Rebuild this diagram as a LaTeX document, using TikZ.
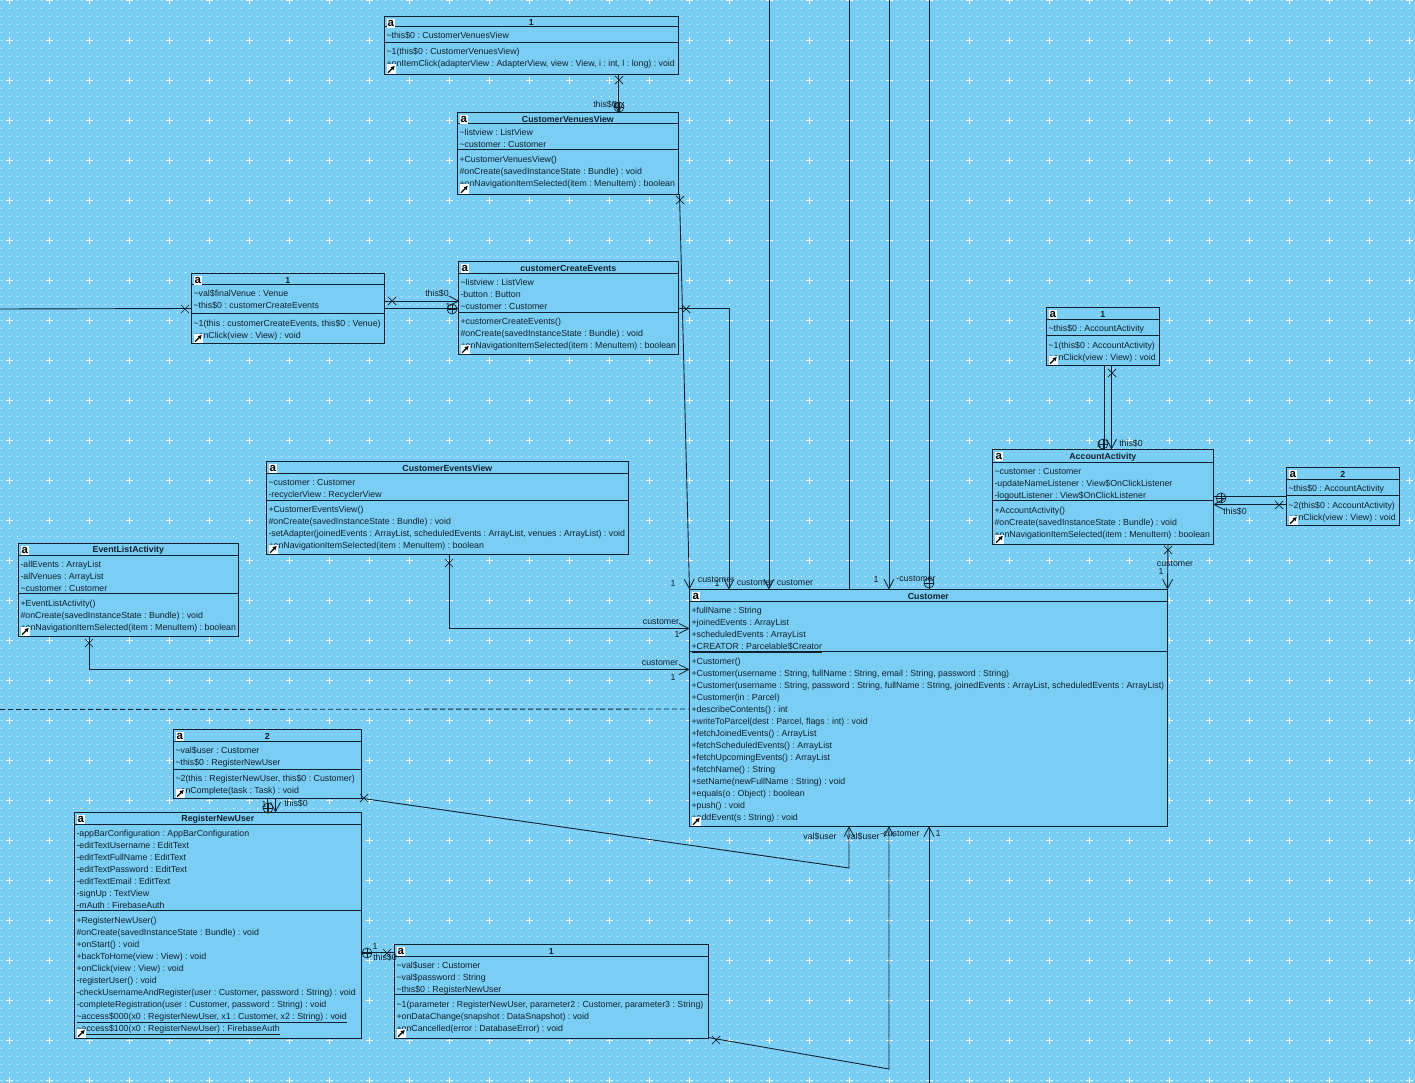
\documentclass[tikz,border=0pt]{standalone}
\usepackage{fontspec}
\setmainfont{Liberation Sans}
\usetikzlibrary{calc,arrows.meta,shapes.misc}
\frenchspacing
\definecolor{umlblue}{HTML}{7ACEF4}
\definecolor{umlline}{HTML}{10202C}
\newcommand{\pk}{\textasciitilde}
\tikzset{
	classbox/.style={draw=umlline,fill=umlblue,line width=0.9pt,anchor=north west,inner sep=0pt,outer sep=0pt},
	classtitle/.style={font=\fontsize{8.8}{12}\selectfont\bfseries,text=umlline,inner sep=0pt},
	members/.style={font=\fontsize{8.8}{12}\selectfont,text=umlline,align=left,anchor=north west,inner sep=0pt},
	iconbox/.style={fill=white,anchor=north west,minimum width=8pt,minimum height=9pt,inner sep=0pt,font=\fontsize{11.5}{11.5}\selectfont\bfseries},
	linkbox/.style={fill=white,anchor=south west,minimum size=9.5pt,inner sep=0pt},
	assoc/.style={draw=umlline,line width=0.9pt},
	arr/.style={assoc,-{Straight Barb[length=9.5pt,width=10pt,line width=0.8pt]}},
	xmark/.style={cross out,draw=umlline,line width=0.7pt,minimum size=7.5pt,inner sep=0pt},
	omark/.style={circle,draw=umlline,line width=0.7pt,minimum size=10pt,inner sep=0pt,
		path picture={\draw[umlline,line width=0.7pt] (path picture bounding box.north)--(path picture bounding box.south)
			(path picture bounding box.west)--(path picture bounding box.east);}},
	lbl/.style={font=\fontsize{8.8}{11}\selectfont,text=umlline,inner sep=0pt},
}
% name, corner, width, height, title, title line, member line, attributes, operations
\newcommand{\umlclass}[9]{
	\node[classbox,minimum width=#3pt+0.7pt,minimum height=#4pt+0.7pt] (#1) at ([shift={(-0.5,-0.5)}]#2) {};
	\draw[assoc] ([yshift=-#6pt]#1.north west)--([yshift=-#6pt]#1.north east);
	\draw[assoc] ([yshift=-#7pt]#1.north west)--([yshift=-#7pt]#1.north east);
	\node[classtitle] (#1-title) at ([yshift=-#6pt/2-1.2pt]#1.north) {#5};
	\node[members] (#1-attrs) at ([xshift=1.8pt,yshift=-#6pt-3.2pt]#1.north west) {\rule{0pt}{9pt}#8};
	\node[members] (#1-ops) at ([xshift=1.8pt,yshift=-#7pt-3.5pt]#1.north west) {\rule{0pt}{9pt}#9};
	\node[iconbox] (#1-icon) at ([xshift=2pt,yshift=-2pt]#1.north west) {a};
	\node[linkbox] (#1-link) at ([xshift=2pt]#1.south west) {};
	\draw[line width=1.3pt,-{Latex[length=4pt,width=4.5pt]}] ([shift={(1.5,-1.5)}]#1-link.south west)--([shift={(-1.5,1.5)}]#1-link.north east);
}
\begin{document}
\begin{tikzpicture}[x=1pt,y=-1pt]
	\useasboundingbox (0,0) rectangle (1415,1083);
	\fill[umlblue] (0,0) rectangle (1415,1083);
	\foreach \y in {0,8,...,1080}
		\draw[white,line width=1pt,dash pattern=on 1pt off 7pt] (1,\y+0.5)--(1415,\y+0.5);
	\foreach \x in {9,49,...,1409}
		\foreach \y in {0,40,...,1080}
			\draw[white,line width=0.9pt] (\x+0.5-3.5,\y+0.5)--(\x+0.5+3.5,\y+0.5) (\x+0.5,\y+0.5-3.5)--(\x+0.5,\y+0.5+3.5);

	\umlclass{venuesItem}{385,17}{293}{57}{1}{10}{25.5}
		{\pk{}this\$0 : CustomerVenuesView}
		{\pk{}1(this\$0 : CustomerVenuesView)\\+onItemClick(adapterView : AdapterView, view : View, i : int, l : long) : void}
	\umlclass{venuesView}{458,113}{220}{81}{CustomerVenuesView}{10.5}{37}
		{\pk{}listview : ListView\\\pk{}customer : Customer}
		{+CustomerVenuesView()\\\#onCreate(savedInstanceState : Bundle) : void\\+onNavigationItemSelected(item : MenuItem) : boolean}
	\umlclass{createItem}{192,274}{192}{69}{1}{11}{40}
		{\pk{}val\$finalVenue : Venue\\\pk{}this\$0 : customerCreateEvents}
		{\pk{}1(this : customerCreateEvents, this\$0 : Venue)\\+onClick(view : View) : void}
	\umlclass{createEvents}{459,262}{219}{92}{customerCreateEvents}{12}{50.5}
		{\pk{}listview : ListView\\-button : Button\\\pk{}customer : Customer}
		{+customerCreateEvents()\\\#onCreate(savedInstanceState : Bundle) : void\\+onNavigationItemSelected(item : MenuItem) : boolean}
	\umlclass{accountItemA}{1047,308}{112}{57}{1}{12}{28}
		{\pk{}this\$0 : AccountActivity}
		{\pk{}1(this\$0 : AccountActivity)\\+onClick(view : View) : void}
	\umlclass{account}{993,450}{220}{94}{AccountActivity}{13}{51}
		{\pk{}customer : Customer\\-updateNameListener : View\$OnClickListener\\-logoutListener : View\$OnClickListener}
		{+AccountActivity()\\\#onCreate(savedInstanceState : Bundle) : void\\+onNavigationItemSelected(item : MenuItem) : boolean}
	\umlclass{accountItemB}{1287,468}{112}{57}{2}{12}{28}
		{\pk{}this\$0 : AccountActivity}
		{\pk{}2(this\$0 : AccountActivity)\\+onClick(view : View) : void}
	\umlclass{eventsView}{267,462}{361}{92}{CustomerEventsView}{12}{38.5}
		{\pk{}customer : Customer\\-recyclerView : RecyclerView}
		{+CustomerEventsView()\\\#onCreate(savedInstanceState : Bundle) : void\\-setAdapter(joinedEvents : ArrayList, scheduledEvents : ArrayList, venues : ArrayList) : void\\+onNavigationItemSelected(item : MenuItem) : boolean}
	\umlclass{eventList}{19,544}{219}{92}{EventListActivity}{12}{50}
		{-allEvents : ArrayList\\-allVenues : ArrayList\\\pk{}customer : Customer}
		{+EventListActivity()\\\#onCreate(savedInstanceState : Bundle) : void\\+onNavigationItemSelected(item : MenuItem) : boolean}
	\umlclass{customer}{690,590}{477}{236}{Customer}{12}{62}
		{+fullName : String\\+joinedEvents : ArrayList\\+scheduledEvents : ArrayList\\\underline{+CREATOR : Parcelable\$Creator}}
		{+Customer()\\+Customer(username : String, fullName : String, email : String, password : String)\\+Customer(username : String, password : String, fullName : String, joinedEvents : ArrayList, scheduledEvents : ArrayList)\\+Customer(in : Parcel)\\+describeContents() : int\\+writeToParcel(dest : Parcel, flags : int) : void\\+fetchJoinedEvents() : ArrayList\\+fetchScheduledEvents() : ArrayList\\+fetchUpcomingEvents() : ArrayList\\+fetchName() : String\\+setName(newFullName : String) : void\\+equals(o : Object) : boolean\\+push() : void\\+addEvent(s : String) : void}
	\umlclass{registerItemB}{174,730}{187}{68}{2}{12}{39.5}
		{\pk{}val\$user : Customer\\\pk{}this\$0 : RegisterNewUser}
		{\pk{}2(this : RegisterNewUser, this\$0 : Customer)\\+onComplete(task : Task) : void}
	\umlclass{register}{75,813}{286}{225}{RegisterNewUser}{12}{98}
		{-appBarConfiguration : AppBarConfiguration\\-editTextUsername : EditText\\-editTextFullName : EditText\\-editTextPassword : EditText\\-editTextEmail : EditText\\-signUp : TextView\\-mAuth : FirebaseAuth}
		{+RegisterNewUser()\\\#onCreate(savedInstanceState : Bundle) : void\\+onStart() : void\\+backToHome(view : View) : void\\+onClick(view : View) : void\\-registerUser() : void\\-checkUsernameAndRegister(user : Customer, password : String) : void\\-completeRegistration(user : Customer, password : String) : void\\\underline{\pk{}access\$000(x0 : RegisterNewUser, x1 : Customer, x2 : String) : void}\\\underline{\pk{}access\$100(x0 : RegisterNewUser) : FirebaseAuth}}
	\umlclass{registerItemA}{395,945}{313}{93}{1}{12}{50}
		{\pk{}val\$user : Customer\\\pk{}val\$password : String\\\pk{}this\$0 : RegisterNewUser}
		{\pk{}1(parameter : RegisterNewUser, parameter2 : Customer, parameter3 : String)\\+onDataChange(snapshot : DataSnapshot) : void\\+onCancelled(error : DatabaseError) : void}

	\coordinate (topA) at (769,0);
	\coordinate (topB) at (849,0);
	\coordinate (topC) at (889,0);
	\coordinate (topD) at (929,0);
	\coordinate (leftEnd) at (0,309);
	\coordinate (bendUser) at (849,868);
	\coordinate (bendCust) at (889,1069);
	\coordinate (bottomEnd) at (929,1083);
	\coordinate (dashStart) at (0,709.5);

	\draw[arr] ([xshift=234pt]venuesItem.south west)--([xshift=161pt]venuesView.north west);
	\draw[arr] ([xshift=222pt]venuesView.south west)--(customer.north west);
	\draw[arr] ([yshift=-27.5pt]createItem.north east)--([yshift=-27.5pt,xshift=75pt]createItem.north east);
	\draw[assoc] ([yshift=-35pt]createItem.north east)--([yshift=-47pt]createEvents.north west);
	\draw[arr] ([yshift=-47pt]createEvents.north east)-|([xshift=39.5pt]customer.north west);
	\draw[arr] (topA)--([xshift=79.5pt]customer.north west);
	\draw[assoc] (topB)--([xshift=159.5pt]customer.north west);
	\draw[arr] (topC)--([xshift=199.5pt]customer.north west);
	\draw[assoc] (topD)--([xshift=239.5pt]customer.north west);
	\draw[arr] ([xshift=182.5pt]eventsView.south west)|-([yshift=-39pt]customer.north west);
	\draw[arr] ([xshift=70.5pt]eventList.south west)|-([yshift=-80pt]customer.north west);
	\draw[assoc] (leftEnd)--([yshift=-35pt]createItem.north west);
	\draw[assoc,dash pattern=on 5pt off 3pt] (dashStart)--([yshift=-119.5pt]customer.north west);
	\draw[arr] (registerItemB.south east)--(bendUser)--([xshift=159.5pt]customer.south west);
	\draw[assoc] ([xshift=94pt]registerItemB.south west)--([xshift=193pt]register.north west);
	\draw[arr] ([xshift=102pt]registerItemB.south west)--([xshift=201pt]register.north west);
	\draw[assoc] ([yshift=-140pt]register.north east)--([yshift=-8pt]registerItemA.north west);
	\draw[arr] ([yshift=-93pt]registerItemA.north east)--(bendCust)--([xshift=199.5pt]customer.south west);
	\draw[arr] (bottomEnd)--([xshift=239.5pt]customer.south west);
	\draw[assoc] ([xshift=57.5pt]accountItemA.south west)--([xshift=111.5pt]account.north west);
	\draw[arr] ([xshift=65pt]accountItemA.south west)--([xshift=119pt]account.north west);
	\draw[assoc] ([yshift=-47pt]account.north east)--([yshift=-29pt]accountItemB.north west);
	\draw[arr] ([yshift=-37pt]accountItemB.north west)--([yshift=-55pt]account.north east);
	\draw[arr] ([xshift=175.5pt]account.south west)--([xshift=478pt]customer.north west);

	\node[xmark] (xVenuesItem) at (619,80) {};
	\node[omark] (oVenuesView) at (619,107) {};
	\node[xmark] (xVenuesView) at (680,200) {};
	\node[xmark] (xCreateItem) at (392,301) {};
	\node[omark] (oCreateEvents) at (452,309) {};
	\node[xmark] (xCreateEvents) at (686,309) {};
	\node[omark] (oCustomer) at (929,583) {};
	\node[xmark] (xEventsView) at (449,563) {};
	\node[xmark] (xEventList) at (89,643) {};
	\node[xmark] (xLeftEnd) at (185,309) {};
	\node[xmark] (xRegisterItemB) at (364,798) {};
	\node[omark] (oRegister) at (268,808) {};
	\node[omark] (oRegisterSide) at (367,953) {};
	\node[xmark] (xRegisterItemA) at (387,953) {};
	\node[xmark] (xBottomItem) at (716,1040) {};
	\node[xmark] (xAccountItemA) at (1112,373) {};
	\node[omark] (oAccountTop) at (1103,444) {};
	\node[omark] (oAccountSide) at (1221,498) {};
	\node[xmark] (xAccountItemB) at (1279,505) {};
	\node[xmark] (xAccount) at (1168,550) {};

	\node[lbl] (lblVenuesOne) at (617,105) {1};
	\node[lbl] (lblVenuesThis) at (605,105) {this\$0};
	\node[lbl] (lblCreateThis) at (437,294) {this\$0};
	\node[lbl] (lblCreateOne) at (448,306) {1};
	\node[lbl] (lblCustOneA) at (673,583) {1};
	\node[lbl] (lblCustA) at (716,580) {customer};
	\node[lbl] (lblCustOneB) at (717,583) {1};
	\node[lbl] (lblCustB) at (755,583) {customer};
	\node[lbl] (lblCustC) at (795,583) {customer};
	\node[lbl] (lblCustOneC) at (876,579) {1};
	\node[lbl] (lblCustD) at (916,579) {-customer};
	\node[lbl] (lblEventsCust) at (661,622) {customer};
	\node[lbl] (lblEventsOne) at (677,634) {1};
	\node[lbl] (lblListCust) at (660,663) {customer};
	\node[lbl] (lblListOne) at (673,677) {1};
	\node[lbl] (lblUserA) at (820,837) {val\$user};
	\node[lbl] (lblUserB) at (863,837) {val\$user};
	\node[lbl] (lblBottomCust) at (900,834) {-customer};
	\node[lbl] (lblBottomOne) at (938,833) {1};
	\node[lbl] (lblRegOne) at (264,804) {1};
	\node[lbl] (lblRegThis) at (296,804) {this\$0};
	\node[lbl] (lblSideOne) at (375,946) {1};
	\node[lbl] (lblSideThis) at (385,958) {this\$0};
	\node[lbl] (lblAccOne) at (1099,444) {1};
	\node[lbl] (lblAccThis) at (1131,444) {this\$0};
	\node[lbl] (lblSideAcc) at (1235,512) {this\$0};
	\node[lbl] (lblAccCust) at (1175,564) {customer};
	\node[lbl] (lblAccCustOne) at (1161,571) {1};
\end{tikzpicture}
\end{document}
